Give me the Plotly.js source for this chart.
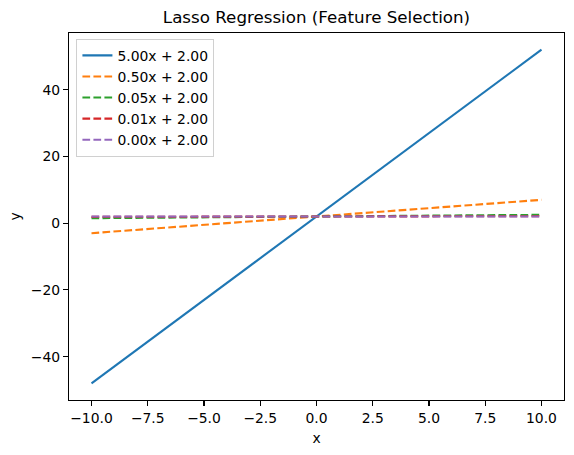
<!DOCTYPE html>
<html>
<head>
<meta charset="utf-8">
<script src="https://cdn.plot.ly/plotly-3.0.1.min.js"></script>
<style>
  html, body { margin: 0; padding: 0; background: #fff; }
  #chart { width: 574px; height: 455px; }
</style>
</head>
<body>
<div id="chart"></div>
<script>
// endpoints of each fitted line
var xEnds = [-10, 10];
var labels = ['5.00x + 2.00', '0.50x + 2.00', '0.05x + 2.00', '0.01x + 2.00', '0.00x + 2.00'];
var yEnds = [
  [-48, 52],
  [-3, 7],
  [1.5, 2.5],
  [1.9, 2.1],
  [2, 2]
];
var colors = ['#1f77b4', '#ff7f0e', '#2ca02c', '#d62728', '#9467bd'];
var dashes = ['solid', '7.7px,3.3px', '7.7px,3.3px', '7.7px,3.3px', '7.7px,3.3px'];

var font = 'DejaVu Sans, sans-serif';

var data = labels.map(function(name, i) {
  return {
    type: 'scatter',
    mode: 'lines',
    name: name,
    x: xEnds,
    y: yEnds[i],
    line: { color: colors[i], width: 2.1, dash: dashes[i] }
  };
});

var axisBase = {
  showline: true,
  mirror: true,
  linecolor: '#000',
  linewidth: 1.1,
  showgrid: false,
  zeroline: false,
  ticks: 'outside',
  ticklen: 5,
  tickwidth: 1.1,
  tickcolor: '#000',
  tickfont: { family: font, size: 13.9, color: '#000' }
};

var layout = {
  width: 574,
  height: 455,
  margin: { l: 68.5, r: 9.5, t: 33, b: 55 },
  paper_bgcolor: '#fff',
  plot_bgcolor: '#fff',
  font: { family: font, color: '#000' },
  title: {
    text: 'Lasso Regression (Feature Selection)',
    font: { family: font, size: 16.7, color: '#000' },
    x: 0.5 + (68.5 - 9.5) / 2 / 574,
    xanchor: 'center',
    y: 1 - 17 / 455,
    yanchor: 'middle'
  },
  xaxis: Object.assign({}, axisBase, {
    range: [-11, 11],
    tick0: 0,
    dtick: 2.5,
    tickformat: '.1f',
    title: { text: 'x', font: { family: font, size: 13.9 }, standoff: 8 }
  }),
  yaxis: Object.assign({}, axisBase, {
    range: [-53, 57],
    tick0: 0,
    dtick: 20,
    title: { text: 'y', font: { family: font, size: 13.9 }, standoff: 6 }
  }),
  showlegend: true,
  legend: {
    x: 0.015,
    y: 0.984,
    xanchor: 'left',
    yanchor: 'top',
    bgcolor: 'rgba(255,255,255,0.8)',
    bordercolor: '#d0d0d0',
    borderwidth: 1,
    font: { family: font, size: 13.9, color: '#000' },
    itemwidth: 30,
    tracegroupgap: 0
  }
};

Plotly.newPlot('chart', data, layout, { displayModeBar: false, staticPlot: true });
</script>
</body>
</html>
